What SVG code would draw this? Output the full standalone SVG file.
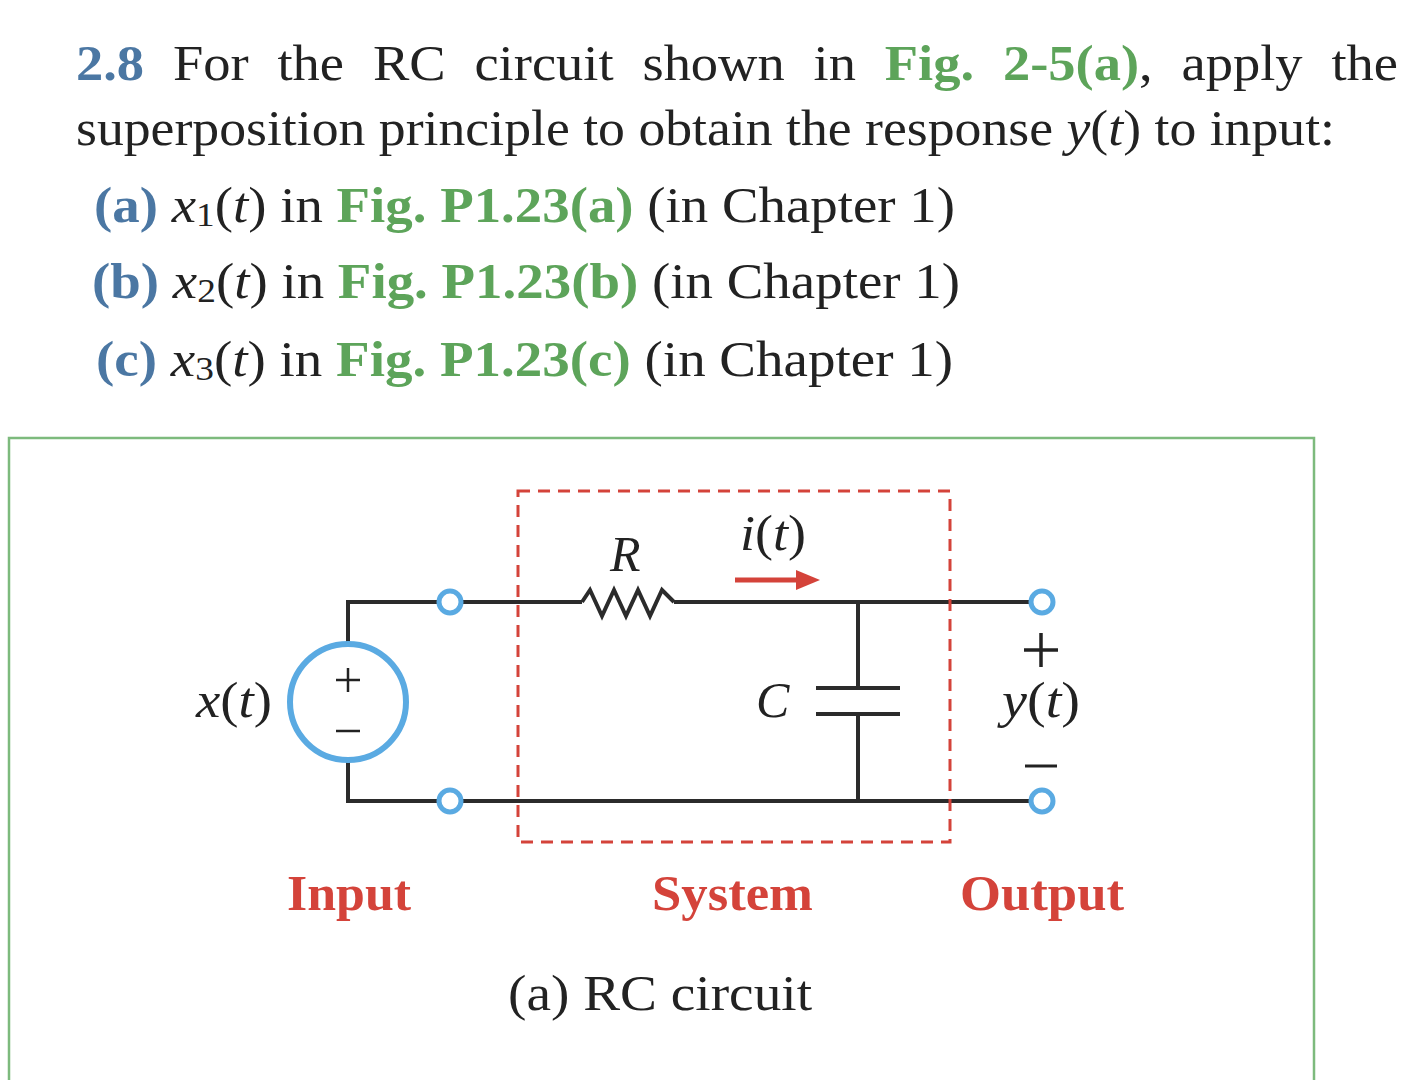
<svg xmlns="http://www.w3.org/2000/svg" width="1426" height="1080" viewBox="0 0 1426 1080">
<style>
text{font-family:"Liberation Serif","DejaVu Serif",serif;fill:#222}
.t{font-size:50px}
.b{fill:#4b77a3;font-weight:bold}
.g{fill:#5da45a;font-weight:bold}
.r{fill:#d4433a;font-weight:bold;font-size:50px}
.w{stroke:#2b2b2b;stroke-width:4;fill:none}
.term{fill:#fff;stroke:#5aaae2;stroke-width:5}
</style>
<rect width="1426" height="1080" fill="#fff"/>
<g id="text">
<text class="t" x="76" y="80" textLength="1322" lengthAdjust="spacingAndGlyphs" word-spacing="14"><tspan class="b">2.8</tspan>  For the RC circuit shown in <tspan class="g">Fig. 2-5(a)</tspan>, apply the</text>
<text class="t" x="76" y="145" textLength="1259" lengthAdjust="spacingAndGlyphs">superposition principle to obtain the response <tspan font-style="italic">y</tspan>(<tspan font-style="italic">t</tspan>) to input:</text>
<text class="t" x="94" y="222" textLength="861" lengthAdjust="spacingAndGlyphs"><tspan class="b">(a)</tspan>  <tspan font-style="italic">x</tspan><tspan font-size="34" dy="4">1</tspan><tspan dy="-4">(</tspan><tspan font-style="italic">t</tspan>) in <tspan class="g">Fig. P1.23(a)</tspan> (in Chapter 1)</text>
<text class="t" x="92" y="298" textLength="868" lengthAdjust="spacingAndGlyphs"><tspan class="b">(b)</tspan>  <tspan font-style="italic">x</tspan><tspan font-size="34" dy="4">2</tspan><tspan dy="-4">(</tspan><tspan font-style="italic">t</tspan>) in <tspan class="g">Fig. P1.23(b)</tspan> (in Chapter 1)</text>
<text class="t" x="96" y="376" textLength="857" lengthAdjust="spacingAndGlyphs"><tspan class="b">(c)</tspan>  <tspan font-style="italic">x</tspan><tspan font-size="34" dy="4">3</tspan><tspan dy="-4">(</tspan><tspan font-style="italic">t</tspan>) in <tspan class="g">Fig. P1.23(c)</tspan> (in Chapter 1)</text>
</g>
<rect x="9" y="438" width="1305" height="660" fill="none" stroke="#7dba7d" stroke-width="2.5"/>
<g id="connectors">
<polyline class="w" points="437,602 348,602 348,644"/>
<polyline class="w" points="348,760 348,801 437,801"/>
<line class="w" x1="463" y1="602" x2="582" y2="602"/>
<polyline class="w" points="582,602 590,590 602,616 614,590 626,616 638,590 650,616 662,590 674,602"/>
<line class="w" x1="674" y1="602" x2="1030" y2="602"/>
<line class="w" x1="463" y1="801" x2="1030" y2="801"/>
<line class="w" x1="858" y1="602" x2="858" y2="688"/>
<line class="w" x1="858" y1="714" x2="858" y2="801"/>
<line class="w" x1="816" y1="688" x2="900" y2="688"/>
<line class="w" x1="816" y1="714" x2="900" y2="714"/>
<rect x="518" y="491" width="432" height="351" fill="none" stroke="#d4433a" stroke-width="3" stroke-dasharray="12,8"/>
<line x1="735" y1="580" x2="800" y2="580" stroke="#d4433a" stroke-width="5"/>
<polygon points="820,580 796,570 796,590" fill="#d4433a"/>
</g>
<g id="source"><circle cx="348" cy="702" r="58" fill="#fff" stroke="#5aaae2" stroke-width="6"/>
<line x1="336" y1="680" x2="360" y2="680" stroke="#222" stroke-width="2.5"/>
<line x1="348" y1="668" x2="348" y2="692" stroke="#222" stroke-width="2.5"/>
<line x1="336" y1="731" x2="360" y2="731" stroke="#222" stroke-width="2.5"/></g>
<g id="terminals">
<circle class="term" cx="450" cy="602" r="11"/><circle class="term" cx="450" cy="801" r="11"/>
<circle class="term" cx="1042" cy="602" r="11"/><circle class="term" cx="1042" cy="801" r="11"/>
</g>
<g id="labels">
<text x="196" y="717" font-size="50" textLength="76" lengthAdjust="spacingAndGlyphs"><tspan font-style="italic">x</tspan>(<tspan font-style="italic">t</tspan>)</text>
<text x="610" y="571" font-size="50" font-style="italic">R</text>
<text x="740" y="550" font-size="50" textLength="66" lengthAdjust="spacingAndGlyphs"><tspan font-style="italic">i</tspan>(<tspan font-style="italic">t</tspan>)</text>
<text x="756" y="717" font-size="50" font-style="italic">C</text>
<line x1="1024" y1="650" x2="1058" y2="650" stroke="#222" stroke-width="3.5"/>
<line x1="1041" y1="633" x2="1041" y2="667" stroke="#222" stroke-width="3.5"/>
<text x="1002" y="717" font-size="50" textLength="78" lengthAdjust="spacingAndGlyphs"><tspan font-style="italic">y</tspan>(<tspan font-style="italic">t</tspan>)</text>
<line x1="1025" y1="766" x2="1057" y2="766" stroke="#222" stroke-width="3"/>
<text class="r" x="287" y="910" textLength="124" lengthAdjust="spacingAndGlyphs">Input</text>
<text class="r" x="652" y="910" textLength="161" lengthAdjust="spacingAndGlyphs">System</text>
<text class="r" x="960" y="910" textLength="164" lengthAdjust="spacingAndGlyphs">Output</text>
<text x="508" y="1010" font-size="50" textLength="304" lengthAdjust="spacingAndGlyphs">(a)  RC circuit</text>
</g>
</svg>
